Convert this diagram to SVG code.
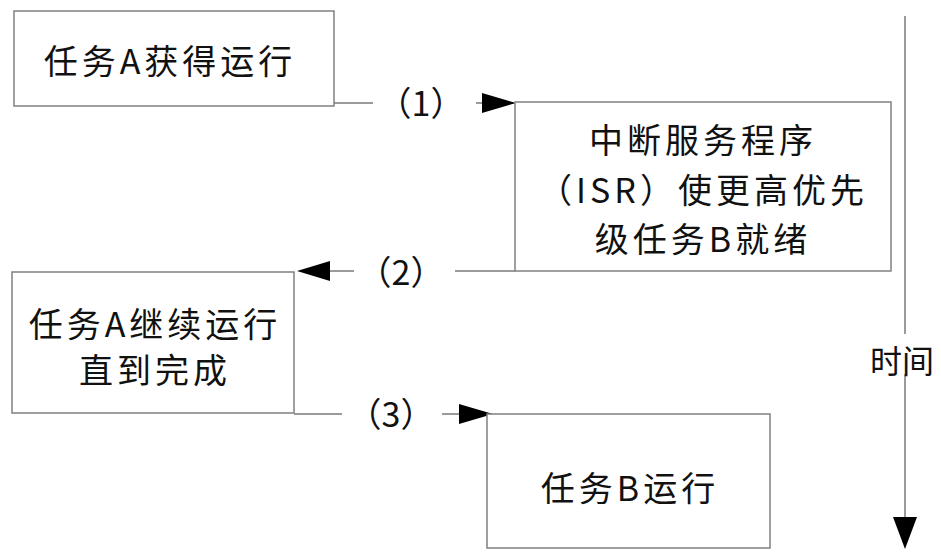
<svg xmlns="http://www.w3.org/2000/svg" width="941" height="558" viewBox="0 0 941 558">
<defs>
<style>
.box{fill:#fff;stroke:#808080;stroke-width:1.5}
.ln{fill:none;stroke:#7a7a7a;stroke-width:1.5}
.t{font-family:"Noto Sans CJK SC","Noto Sans",sans-serif;font-size:34px;fill:#111;text-anchor:middle;dominant-baseline:central;letter-spacing:4px}
.lb{font-family:"Noto Sans CJK SC","Noto Sans",sans-serif;font-size:34px;fill:#111;text-anchor:middle;dominant-baseline:central}
.tm{font-family:"Noto Sans CJK SC","Noto Sans",sans-serif;font-size:32px;fill:#111;text-anchor:middle;dominant-baseline:central}
.ah{fill:#000}
</style>
</defs>
<rect width="941" height="558" fill="#fff"/>
<g id="connectors">
<path class="ln" d="M334,103 H373"/>
<path class="ln" d="M476,103 H513"/>
<polygon class="ah" points="482,93 516,103 482,113"/>
<path class="ln" d="M515,271 H455"/>
<path class="ln" d="M354,271 H300"/>
<polygon class="ah" points="330,261 297,271 330,281"/>
<path class="ln" d="M294,414 H342"/>
<path class="ln" d="M442,414 H490"/>
<polygon class="ah" points="459,404 493,414 459,424"/>
<text class="lb" x="421" y="101">（1）</text>
<text class="lb" x="401" y="270">（2）</text>
<text class="lb" x="391" y="412">（3）</text>
</g>
<g id="time-axis">
<path class="ln" d="M905,16 V334"/>
<path class="ln" d="M905,374 V520"/>
<polygon class="ah" points="893,517 917,517 905,549"/>
<text class="tm" x="902" y="359">时间</text>
</g>
<g id="taskA-run">
<rect class="box" x="14" y="11" width="320" height="95"/>
<text class="t" x="170" y="59">任务A获得运行</text>
</g>
<g id="isr">
<rect class="box" x="515" y="102" width="376" height="169"/>
<text class="t" x="703" y="138">中断服务程序</text>
<text class="t" x="703" y="188">（ISR）使更高优先</text>
<text class="t" x="703" y="237">级任务B就绪</text>
</g>
<g id="taskA-continue">
<rect class="box" x="12" y="272" width="282" height="141"/>
<text class="t" x="155" y="322">任务A继续运行</text>
<text class="t" x="155" y="368">直到完成</text>
</g>
<g id="taskB-run">
<rect class="box" x="487" y="414" width="283" height="134"/>
<text class="t" x="630" y="486">任务B运行</text>
</g>
</svg>
